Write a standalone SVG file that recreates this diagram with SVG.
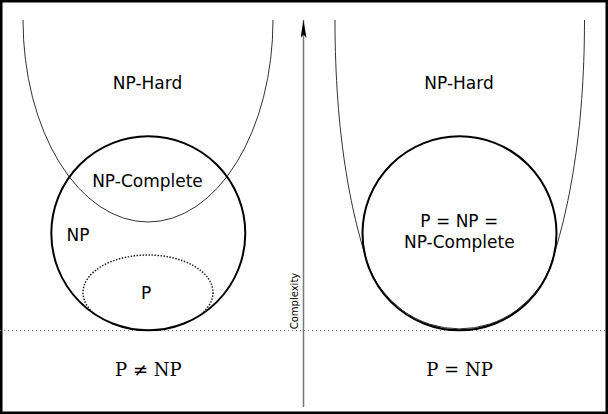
<svg xmlns="http://www.w3.org/2000/svg" width="608" height="414" viewBox="0 0 608 414">
<style>
.lbl{font-family:"DejaVu Sans","Liberation Sans",sans-serif;font-size:17px;fill:#000;text-anchor:middle}
.ser{font-family:"DejaVu Serif","Liberation Serif",serif;font-size:18px;fill:#000;text-anchor:middle}
.u{fill:none;stroke:#333;stroke-width:1}
.set{fill:none;stroke:#000;stroke-width:2}
.dot{fill:none;stroke:#222;stroke-width:1.5;stroke-dasharray:1.5 1.5}
.base{stroke:#888;stroke-width:1;stroke-dasharray:1 3}
</style>
<defs>
<marker id="ah" viewBox="0 0 18 6" refX="18" refY="3" markerWidth="18" markerHeight="6" markerUnits="userSpaceOnUse" orient="auto">
<path d="M18,3 L0,0 L3.5,3 L0,6 Z" fill="#000"/>
</marker>
<clipPath id="npclip"><circle cx="148.3" cy="233.3" r="96"/></clipPath>
</defs>
<rect x="0" y="0" width="608" height="414" fill="#fff"/>
<rect x="1.25" y="1.25" width="605.5" height="411.5" fill="none" stroke="#000" stroke-width="2.5"/>

<line class="base" x1="0" y1="330.5" x2="608" y2="330.5"/>

<g id="left-np-hard">
<path class="u" d="M23,20 A125,202 0 0 0 273,20"/>
<text class="lbl" x="147.5" y="89">NP-Hard</text>
</g>
<g id="left-np">
<circle class="set" cx="148.3" cy="233.3" r="97"/>
<text class="lbl" x="66.5" y="241" style="text-anchor:start">NP</text>
</g>
<g id="left-np-complete">
<text class="lbl" x="147.5" y="186.5">NP-Complete</text>
</g>
<g id="left-p">
<ellipse class="dot" cx="148" cy="292.5" rx="65" ry="37.5" clip-path="url(#npclip)"/>
<text class="lbl" x="141" y="299" style="text-anchor:start">P</text>
</g>
<g id="left-caption">
<text class="ser" x="148.3" y="376">P ≠ NP</text>
</g>

<g id="right-np-hard">
<path class="u" d="M335,20 C335,135 351,212 367.3,262 A97,97 0 0 0 551.7,262 C568,212 584.5,135 584.5,20"/>
<text class="lbl" x="459" y="89">NP-Hard</text>
</g>
<g id="right-p-np">
<circle class="set" cx="459.5" cy="233.3" r="97"/>
<text class="lbl" x="459.3" y="227">P = NP =</text>
<text class="lbl" x="459.3" y="248">NP-Complete</text>
</g>
<g id="right-caption">
<text class="ser" x="459.5" y="376">P = NP</text>
</g>

<g id="connectors">
<line x1="303.5" y1="407" x2="303.5" y2="20" stroke="#777" stroke-width="1.5" marker-end="url(#ah)"/>
<text x="298" y="301" transform="rotate(-90 298 301)" style="font-family:'DejaVu Sans','Liberation Sans',sans-serif;font-size:10px;text-anchor:middle;fill:#000">Complexity</text>
</g>
</svg>
